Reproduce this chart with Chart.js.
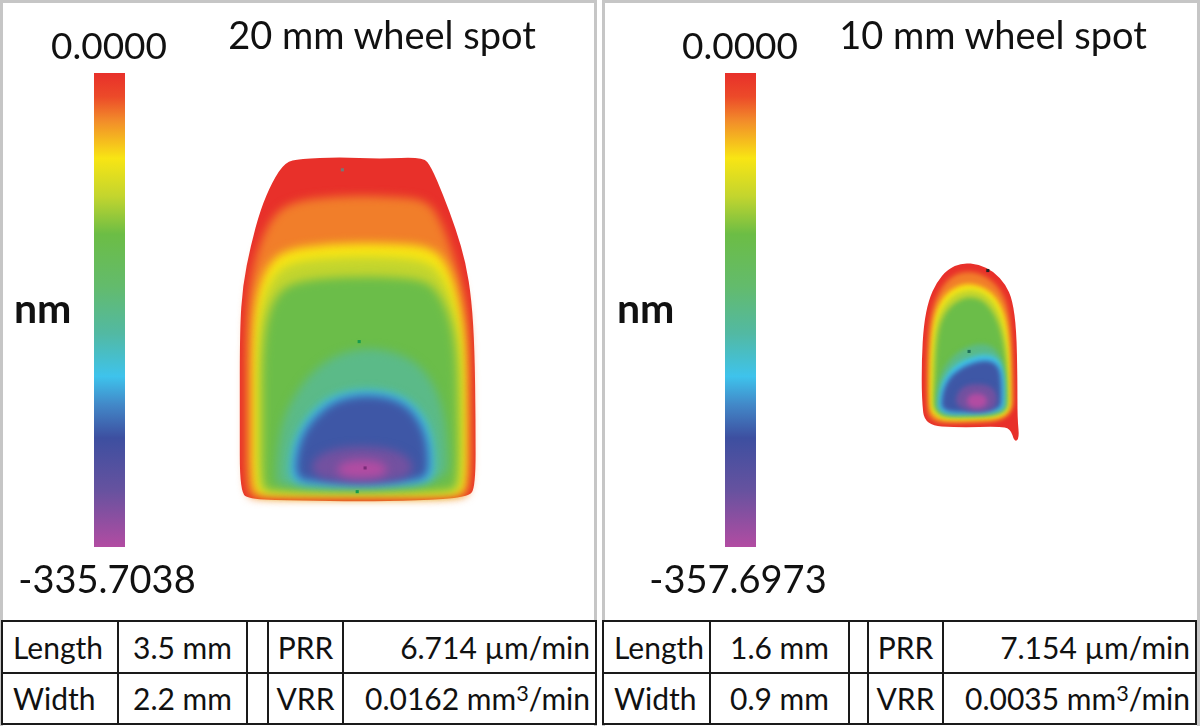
<!DOCTYPE html>
<html><head><meta charset="utf-8">
<script src="https://cdn.jsdelivr.net/npm/chart.js@4.4.1/dist/chart.umd.min.js"></script>
<style>
body{margin:0;width:1200px;height:726px;background:#fff;font-family:Lato,"Open Sans",sans-serif;color:#111;overflow:hidden;position:relative}
.panel{position:absolute;top:0;height:726px;box-sizing:border-box;border:3px solid #c6c6c6;border-bottom:none}
.txt{position:absolute;line-height:1;white-space:nowrap}
.c{transform:translateX(-50%)}
canvas{position:absolute}
table{position:absolute;top:620px;height:105px;border-collapse:collapse;table-layout:fixed;font-size:30px;background:#fff}
td{border:2px solid #1a1a1a;padding:0 5px;white-space:nowrap;text-align:center}
td.l{text-align:left;padding-left:10px}
td.r{text-align:right}
.sup{font-size:.72em;position:relative;top:-.42em}
</style></head>
<body>
<div class="panel" style="left:0;width:597px"></div>
<div class="panel" style="left:602px;width:598px"></div>
<script>
/* ===================== data ===================== */
const TITLES     = ['20 mm wheel spot','10 mm wheel spot'];
const DEPTH_TOP  = [0, 0];                       // nm, top of colour bar
const DEPTH_BOT  = [-335.7038, -357.6973];       // nm, bottom of colour bar
const UNIT       = 'nm';
const ROW_LABELS = ['Length','Width'];
const SIZES      = [['3.5 mm','2.2 mm'],['1.6 mm','0.9 mm']];
const RATE_LBL   = ['PRR','VRR'];
const RATES      = [['6.714 µm/min','0.0162 mm<span class="sup">3</span>/min'],
                    ['7.154 µm/min','0.0035 mm<span class="sup">3</span>/min']];

/* colour bar: position along bar (0 = top) -> colour */
const CMAP_POS = [0, .05, .10, .18, .26, .34, .45, .55, .64, .70, .77, .88, 1];
const CMAP_COL = ['#e8302a','#ec4a29','#f28b2a','#f8e514','#c3d52e','#6cbd45','#63bb6c',
                  '#52b9a3','#3ec3ec','#4288c8','#3d4fa0','#66529f','#b24ca2'];

/* contour rings, outer -> inner, x/y in mm from panel corner; level = fraction of depth */
const LEVELS_20 = [0, .09, .18, .26, .35, .50, .64, .76, .90, 1];
const RINGS_20 = [
  [[2.39,4.95],[2.39,4.20],[2.39,3.30],[2.42,2.85],[2.50,2.45],[2.60,2.08],[2.72,1.80],[2.85,1.60],[3.00,1.57],[3.40,1.55],[3.80,1.57],[4.25,1.55],[4.33,1.65],[4.45,1.93],[4.58,2.28],[4.68,2.62],[4.74,3.00],[4.77,3.50],[4.78,4.20],[4.78,4.90],[4.70,5.00],[4.20,5.03],[3.60,5.04],[3.00,5.03],[2.50,5.02]],
  [[2.45,4.97],[2.45,4.20],[2.45,3.30],[2.49,2.82],[2.58,2.45],[2.72,2.15],[2.92,2.00],[3.40,1.94],[3.90,1.95],[4.28,1.98],[4.42,2.18],[4.55,2.52],[4.66,2.90],[4.72,3.35],[4.73,4.20],[4.73,4.94],[4.63,5.01],[3.63,5.01],[2.55,5.01]],
  [[2.52,4.94],[2.52,4.20],[2.52,3.40],[2.56,2.95],[2.66,2.66],[2.84,2.49],[3.30,2.43],[3.90,2.42],[4.35,2.46],[4.52,2.68],[4.62,3.05],[4.67,3.45],[4.68,4.20],[4.68,4.92],[4.58,4.98],[3.63,4.98],[2.62,4.98]],
  [[2.57,4.92],[2.57,4.20],[2.57,3.45],[2.61,3.05],[2.71,2.78],[2.88,2.62],[3.30,2.57],[3.85,2.56],[4.30,2.60],[4.46,2.78],[4.57,3.10],[4.63,3.50],[4.64,4.20],[4.64,4.90],[4.55,4.96],[3.63,4.96],[2.65,4.95]],
  [[2.62,4.90],[2.62,4.20],[2.62,3.60],[2.66,3.20],[2.76,2.95],[2.92,2.82],[3.30,2.77],[3.80,2.76],[4.25,2.79],[4.40,2.92],[4.52,3.18],[4.58,3.50],[4.60,4.00],[4.60,4.88],[4.52,4.93],[3.63,4.94],[2.70,4.93]],
  [[2.76,4.80],[2.77,4.50],[2.83,4.20],[2.95,3.95],[3.12,3.73],[3.35,3.56],[3.65,3.48],[3.95,3.52],[4.20,3.64],[4.37,3.87],[4.46,4.15],[4.50,4.50],[4.50,4.85],[3.63,4.91],[2.78,4.89]],
  [[2.90,4.70],[2.92,4.50],[2.99,4.32],[3.11,4.14],[3.29,3.99],[3.50,3.92],[3.72,3.91],[3.95,3.94],[4.13,4.04],[4.27,4.20],[4.34,4.40],[4.36,4.62],[4.35,4.78],[4.27,4.86],[3.63,4.89],[3.00,4.87],[2.91,4.81]],
  [[2.95,4.70],[2.97,4.52],[3.03,4.35],[3.14,4.19],[3.32,4.04],[3.52,3.97],[3.72,3.96],[3.93,3.99],[4.10,4.08],[4.22,4.23],[4.29,4.42],[4.31,4.62],[4.30,4.76],[4.23,4.83],[3.63,4.86],[3.03,4.84],[2.97,4.79]],
  [[3.10,4.70],[3.18,4.57],[3.38,4.50],[3.63,4.48],[3.88,4.50],[4.08,4.57],[4.16,4.70],[4.08,4.80],[3.88,4.84],[3.63,4.85],[3.38,4.84],[3.18,4.80]],
  [[3.36,4.72],[3.43,4.64],[3.63,4.61],[3.83,4.64],[3.90,4.72],[3.83,4.79],[3.63,4.81],[3.43,4.79]]
];
const LEVELS_10 = [0, .09, .18, .26, .35, .50, .64, .76, .90, 1];
const RINGS_10 = [
  [[3.22,4.27],[3.19,4.00],[3.19,3.60],[3.21,3.25],[3.26,3.00],[3.34,2.82],[3.45,2.69],[3.60,2.62],[3.77,2.64],[3.92,2.71],[4.04,2.84],[4.11,3.00],[4.15,3.30],[4.16,3.80],[4.16,4.20],[4.18,4.40],[4.13,4.44],[4.09,4.30],[3.97,4.28],[3.57,4.29]],
  [[3.26,4.24],[3.24,4.00],[3.24,3.60],[3.26,3.27],[3.31,3.03],[3.39,2.87],[3.49,2.76],[3.61,2.71],[3.76,2.72],[3.89,2.79],[3.99,2.90],[4.06,3.05],[4.10,3.32],[4.12,3.80],[4.12,4.22],[3.60,4.25]],
  [[3.28,4.21],[3.27,3.90],[3.28,3.50],[3.31,3.20],[3.37,3.02],[3.47,2.90],[3.62,2.83],[3.77,2.85],[3.90,2.92],[3.99,3.04],[4.05,3.22],[4.08,3.50],[4.09,3.90],[4.09,4.19],[3.65,4.22]],
  [[3.30,4.19],[3.29,3.90],[3.30,3.52],[3.33,3.23],[3.40,3.06],[3.50,2.95],[3.63,2.89],[3.77,2.90],[3.88,2.97],[3.96,3.08],[4.02,3.25],[4.06,3.52],[4.07,3.90],[4.07,4.17],[3.65,4.20]],
  [[3.32,4.17],[3.32,3.90],[3.33,3.55],[3.36,3.28],[3.43,3.12],[3.53,3.02],[3.64,2.97],[3.77,2.98],[3.86,3.05],[3.93,3.15],[3.99,3.30],[4.04,3.55],[4.05,3.90],[4.05,4.15],[3.65,4.18]],
  [[3.34,4.16],[3.34,3.95],[3.37,3.77],[3.46,3.61],[3.59,3.50],[3.76,3.44],[3.90,3.46],[3.99,3.56],[4.03,3.75],[4.04,4.00],[4.04,4.14],[3.67,4.17]],
  [[3.36,4.15],[3.36,3.98],[3.40,3.82],[3.49,3.69],[3.62,3.60],[3.79,3.55],[3.92,3.56],[4.00,3.64],[4.03,3.80],[4.03,4.00],[4.02,4.13],[3.68,4.16]],
  [[3.39,4.13],[3.39,3.98],[3.43,3.85],[3.51,3.74],[3.64,3.66],[3.79,3.61],[3.91,3.62],[3.98,3.69],[4.00,3.83],[4.00,4.00],[3.99,4.11],[3.68,4.14]],
  [[3.53,4.01],[3.57,3.91],[3.65,3.86],[3.75,3.85],[3.86,3.86],[3.93,3.91],[3.96,4.01],[3.92,4.10],[3.83,4.13],[3.72,4.13],[3.61,4.11],[3.55,4.06]],
  [[3.64,4.02],[3.67,3.96],[3.75,3.94],[3.83,3.96],[3.86,4.02],[3.83,4.08],[3.75,4.10],[3.67,4.08]]
];
/* measurement marks visible on the maps */
const DOTS_20 = [[3.43,1.68,'#777'],[3.60,3.42,'#169a4e'],[3.58,4.94,'#169a4e'],[3.66,4.70,'#7a2a78']];
const DOTS_10 = [[3.86,2.70,'#222'],[3.67,3.52,'#1d6f5a']];

/* ===================== helpers ===================== */
const hex = h => [1,3,5].map(i=>parseInt(h.substr(i,2),16));
function cmap(t){
  let k=1; while(k<CMAP_POS.length-1 && CMAP_POS[k]<t) k++;
  const a=CMAP_POS[k-1], b=CMAP_POS[k], f=Math.min(1,Math.max(0,(t-a)/(b-a)));
  const A=hex(CMAP_COL[k-1]), B=hex(CMAP_COL[k]);
  return `rgb(${A.map((v,i)=>Math.round(v+(B[i]-v)*f)).join(',')})`;
}

/* smooth closed path through the element positions computed by the scales */
const ringPlugin = {
  id:'rings',
  beforeDatasetsDraw(chart){
    const ctx=chart.ctx;
    chart.data.datasets.forEach((ds,i)=>{
      if(!ds.ring) return;
      const p=chart.getDatasetMeta(i).data, n=p.length;
      ctx.save();
      ctx.filter = ds.blur ? `blur(${ds.blur}px)` : 'none';
      ctx.beginPath();
      const mid=(a,b)=>({x:(a.x+b.x)/2,y:(a.y+b.y)/2});
      let m=mid(p[n-1],p[0]); ctx.moveTo(m.x,m.y);
      for(let k=0;k<n;k++){ const q=mid(p[k],p[(k+1)%n]); ctx.quadraticCurveTo(p[k].x,p[k].y,q.x,q.y); }
      ctx.closePath();
      ctx.fillStyle=ds.backgroundColor; ctx.fill();
      ctx.restore();
    });
  }
};

function el(tag,css,html,cls){
  const e=document.createElement(tag); e.style.cssText=css; if(html!=null) e.innerHTML=html;
  if(cls) e.className=cls; document.body.appendChild(e); return e;
}

/* ===================== one panel ===================== */
function panel(i, x0, rings, levels, dots, barX, blur){
  // spot map
  const cv=el('canvas',`left:${x0}px;top:0;width:597px;height:620px`);
  cv.width=597; cv.height=620;
  const sets=rings.map((r,k)=>({
    data:r.map(([x,y])=>({x,y})), showLine:false, pointRadius:0, ring:true,
    backgroundColor:cmap(levels[k]), blur:k?blur:0
  }));
  sets.unshift({data:dots.map(([x,y])=>({x,y})), pointRadius:2.2, pointStyle:'rect', borderWidth:0,
    backgroundColor:dots.map(d=>d[2])});
  new Chart(cv,{
    type:'scatter',
    data:{datasets:sets},
    options:{
      responsive:false, animation:false, layout:{padding:0},
      plugins:{legend:{display:false},tooltip:{enabled:false}},
      scales:{x:{min:0,max:5.97,display:false}, y:{min:0,max:6.20,reverse:true,display:false}}
    },
    plugins:[ringPlugin]
  });

  // colour bar
  const cb=el('canvas',`left:${barX}px;top:73px;width:31px;height:474px`);
  cb.width=31; cb.height=474;
  new Chart(cb,{
    type:'bar',
    data:{labels:[UNIT],datasets:[{
      data:[[DEPTH_BOT[i],DEPTH_TOP[i]]], barPercentage:1, categoryPercentage:1, borderWidth:0,
      backgroundColor:c=>{
        const a=c.chart.chartArea; if(!a) return CMAP_COL[0];
        const g=c.chart.ctx.createLinearGradient(0,a.top,0,a.bottom);
        CMAP_POS.forEach((p,k)=>g.addColorStop(p,CMAP_COL[k]));
        return g;
      }
    }]},
    options:{
      responsive:false, animation:false, layout:{padding:0},
      plugins:{legend:{display:false},tooltip:{enabled:false}},
      scales:{x:{display:false}, y:{min:DEPTH_BOT[i],max:DEPTH_TOP[i],display:false}}
    }
  });

  // texts
  const cx=barX+15;
  el('div',`left:${x0+(i?390:382)}px;top:15px;font-size:38px`,TITLES[i],'txt c');
  el('div',`left:${cx}px;top:26px;font-size:37px`,DEPTH_TOP[i].toFixed(4),'txt c');
  el('div',`left:${cx-2}px;top:559px;font-size:38px`,DEPTH_BOT[i].toFixed(4),'txt c');
  el('div',`left:${x0+14}px;top:287px;font-size:41px;font-weight:700`,UNIT,'txt');

  // table
  const w = i ? [107,139,19,75,253] : [116,129,21,75,253];
  const t=el('table',`left:${i?602:1}px;width:${w.reduce((a,b)=>a+b)}px`);
  t.innerHTML='<colgroup>'+w.map(v=>`<col style="width:${v}px">`).join('')+'</colgroup>'+
    ROW_LABELS.map((r,k)=>`<tr><td class="l">${r}</td><td>${SIZES[i][k]}</td><td></td><td>${RATE_LBL[k]}</td><td class="r">${RATES[i][k]}</td></tr>`).join('');
}

panel(0, 0,   RINGS_20, LEVELS_20, DOTS_20, 94, 5);
panel(1, 603, RINGS_10, LEVELS_10, DOTS_10, 725, 2.5);
</script>
</body></html>
